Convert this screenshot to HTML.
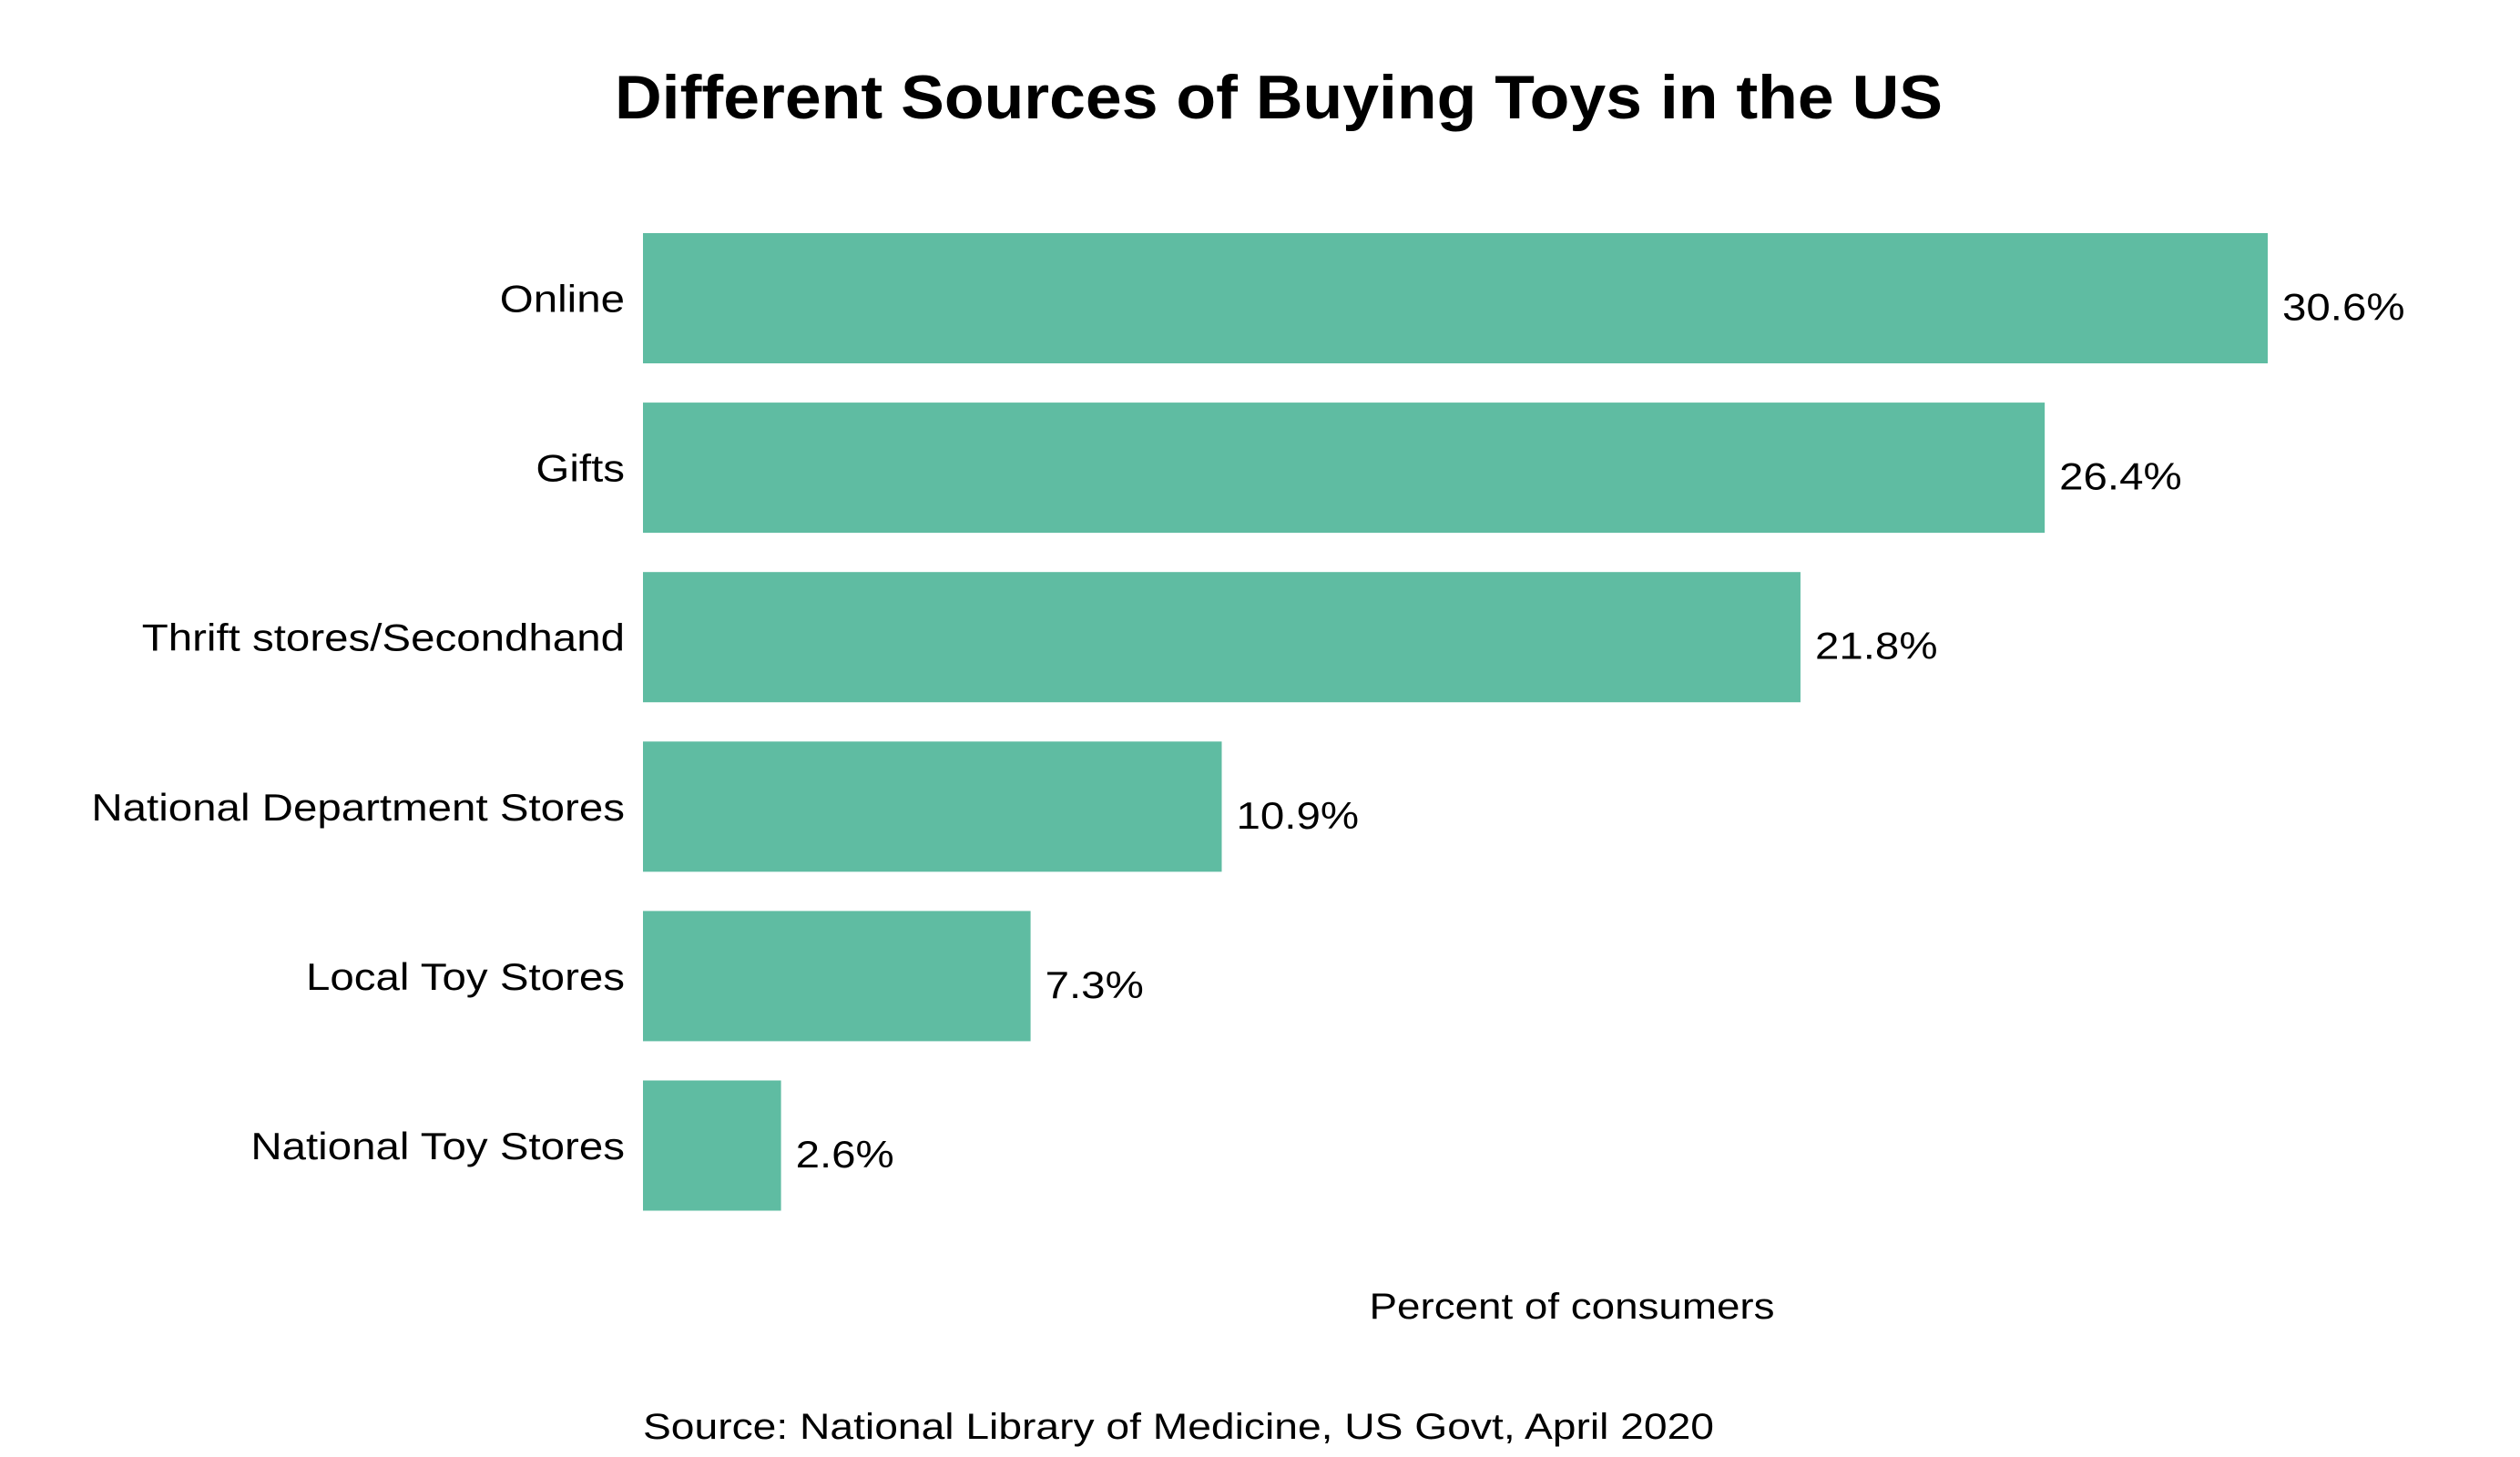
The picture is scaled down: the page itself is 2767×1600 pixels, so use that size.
<!DOCTYPE html>
<html><head><meta charset="utf-8"><style>
html,body{margin:0;padding:0;background:#fff;}
svg{display:block;font-family:"Liberation Sans",sans-serif;}
</style></head><body>
<svg id="chart" width="2767" height="1600" viewBox="0 0 2767 1600" xmlns="http://www.w3.org/2000/svg">
<text x="1404" y="130" text-anchor="middle" font-size="68" font-weight="bold" textLength="1458" lengthAdjust="spacingAndGlyphs" fill="#000">Different Sources of Buying Toys in the US</text>
<g id="bars"></g>
<text x="1726" y="1448" text-anchor="middle" font-size="40" textLength="445" lengthAdjust="spacingAndGlyphs" fill="#000">Percent of consumers</text>
<text x="706" y="1580" font-size="40" textLength="1176" lengthAdjust="spacingAndGlyphs" fill="#000">Source: National Library of Medicine, US Govt, April 2020</text>
</svg>
<script>
const categories = ["Online","Gifts","Thrift stores/Secondhand","National Department Stores","Local Toy Stores","National Toy Stores"];
const values = [30.6, 26.4, 21.8, 10.9, 7.3, 2.6];
const valueLabels = ["30.6%","26.4%","21.8%","10.9%","7.3%","2.6%"];

const NS = "http://www.w3.org/2000/svg";
const x0 = 706, pxPerUnit = 1784 / 30.6;
const y0 = 256, pitch = 186.1, barH = 143;
const stretch = 1.13;
function xScale(v){ return x0 + v * pxPerUnit; }
function yScale(i){ return y0 + i * pitch; }
function widen(t){
  const w = t.getComputedTextLength();
  t.setAttribute("textLength", w * stretch);
  t.setAttribute("lengthAdjust", "spacingAndGlyphs");
}
const g = document.getElementById("bars");
categories.forEach((c, i) => {
  const y = yScale(i);
  const r = document.createElementNS(NS, "rect");
  r.setAttribute("x", x0);
  r.setAttribute("y", y);
  r.setAttribute("width", xScale(values[i]) - x0);
  r.setAttribute("height", barH);
  r.setAttribute("fill", "#5fbca2");
  
  
  g.appendChild(r);

  const t = document.createElementNS(NS, "text");
  t.setAttribute("x", 686);
  t.setAttribute("y", y + barH / 2 + 15);
  t.setAttribute("text-anchor", "end");
  t.setAttribute("font-size", "42");
  t.textContent = c;
  
  
  g.appendChild(t);
  widen(t);

  const v = document.createElementNS(NS, "text");
  v.setAttribute("x", xScale(values[i]) + 16);
  v.setAttribute("y", y + barH / 2 + 24);
  v.setAttribute("font-size", "42");
  v.textContent = valueLabels[i];
  
  
  g.appendChild(v);
  widen(v);
});
</script>
</body></html>
